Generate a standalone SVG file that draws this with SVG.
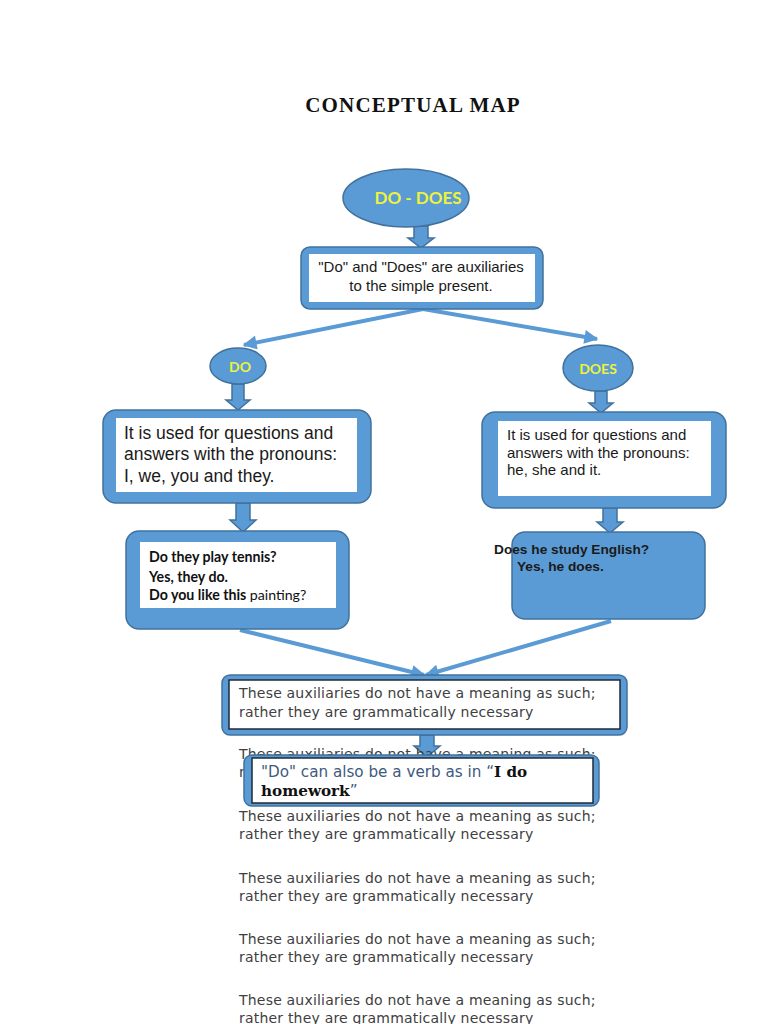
<svg xmlns="http://www.w3.org/2000/svg" width="768" height="1024" viewBox="0 0 768 1024">
<style>
.shape{fill:#5b9bd5;stroke:#41719c;stroke-width:1.5}
.inner{fill:#ffffff}
.innerb{fill:#ffffff;stroke:#1f2a36;stroke-width:1.5}
.yl{fill:#eef23a;font-family:Lato,"Open Sans",sans-serif;font-weight:bold}
.ar{font-family:"Liberation Sans",Arial,sans-serif;fill:#1a1a1a}
.cal{font-family:Lato,"Open Sans",sans-serif;font-size:14.2px;fill:#111}
.ver{font-family:"DejaVu Sans",Verdana,sans-serif;font-size:14px;letter-spacing:0.2px;fill:#404040}
.line{stroke:#5b9bd5;stroke-width:4;fill:none}
</style>
<defs>
<marker id="ah" viewBox="0 0 10 10" refX="9" refY="5" markerWidth="16" markerHeight="14" markerUnits="userSpaceOnUse" orient="auto">
<path d="M0,0 L10,5 L0,10 Z" fill="#5b9bd5"/>
</marker>
</defs>
<rect width="768" height="1024" fill="#ffffff"/>
<text x="413" y="112" text-anchor="middle" font-family="'Liberation Serif','Times New Roman',serif" font-weight="bold" font-size="21" letter-spacing="1.2" fill="#111">CONCEPTUAL MAP</text>

<g id="connectors">
<path class="shape" d="M414,226 H428 V238 H434 L421,248 L408,238 H414 Z"/>
<line class="line" x1="423" y1="309" x2="244" y2="345" marker-end="url(#ah)"/>
<line class="line" x1="423" y1="309" x2="597" y2="339" marker-end="url(#ah)"/>
<path class="shape" d="M232,384 H244 V400 H250 L238,410 L226,400 H232 Z"/>
<path class="shape" d="M595,391 H607 V403 H613 L601,413 L589,403 H595 Z"/>
<path class="shape" d="M236,503 H250 V520 H256 L243,532 L230,520 H236 Z"/>
<path class="shape" d="M603,508 H617 V522 H623 L610,533 L597,522 H603 Z"/>
<line class="line" x1="240" y1="630" x2="424" y2="675" marker-end="url(#ah)"/>
<line class="line" x1="611" y1="621" x2="426" y2="675" marker-end="url(#ah)"/>
<path class="shape" d="M420,735 H434 V746 H440 L427,757 L414,746 H420 Z"/>
</g>

<g id="node-do-does">
<ellipse class="shape" cx="406" cy="198" rx="63" ry="29"/>
<text class="yl" x="418" y="204" text-anchor="middle" font-size="17">DO - DOES</text>
</g>

<g id="node-auxiliaries">
<rect class="shape" x="301" y="247" width="242" height="62" rx="9"/>
<rect class="inner" x="309" y="254" width="226" height="48"/>
<text class="ar" font-size="15" text-anchor="middle"><tspan x="421" y="272">"Do" and "Does" are auxiliaries</tspan><tspan x="421" y="291">to the simple present.</tspan></text>
</g>

<g id="node-do">
<ellipse class="shape" cx="238" cy="366" rx="28" ry="18"/>
<text class="yl" x="240" y="372" text-anchor="middle" font-size="14">DO</text>
</g>

<g id="node-does">
<ellipse class="shape" cx="598" cy="368" rx="35" ry="23"/>
<text class="yl" x="598" y="374" text-anchor="middle" font-size="14">DOES</text>
</g>

<g id="node-do-usage">
<rect class="shape" x="103" y="410" width="268" height="93" rx="13"/>
<rect class="inner" x="116" y="418" width="241" height="74"/>
<text class="ar" font-size="17.5"><tspan x="124" y="439">It is used for questions and</tspan><tspan x="124" y="460">answers with the pronouns:</tspan><tspan x="124" y="482">I, we, you and they.</tspan></text>
</g>

<g id="node-does-usage">
<rect class="shape" x="482" y="412" width="244" height="96" rx="13"/>
<rect class="inner" x="498" y="421" width="213" height="75"/>
<text class="ar" font-size="15"><tspan x="507" y="440">It is used for questions and</tspan><tspan x="507" y="458">answers with the pronouns:</tspan><tspan x="507" y="475">he, she and it.</tspan></text>
</g>

<g id="node-do-examples">
<rect class="shape" x="126" y="531" width="223" height="98" rx="13"/>
<rect class="inner" x="140" y="542" width="196" height="66"/>
<text class="cal" font-weight="bold"><tspan x="149" y="562">Do they play tennis?</tspan><tspan x="149" y="582">Yes, they do.</tspan><tspan x="149" y="600">Do you like this <tspan font-weight="normal">painting?</tspan></tspan></text>
</g>

<g id="node-does-examples">
<rect class="shape" x="512" y="532" width="193" height="87" rx="13"/>
<text class="ar" font-size="13.7" font-weight="bold" fill="#000"><tspan x="494" y="554">Does he study English?</tspan><tspan x="517" y="571">Yes, he does.</tspan></text>
</g>

<g id="node-meaning">
<rect class="shape" x="222" y="675" width="405" height="60" rx="8"/>
<rect class="innerb" x="229" y="680" width="391" height="49"/>
<text class="ver"><tspan x="239" y="698">These auxiliaries do not have a meaning as such;</tspan><tspan x="239" y="717">rather they are grammatically necessary</tspan></text>
</g>

<g id="ghost-text">
<text class="ver"><tspan x="239" y="759">These auxiliaries do not have a meaning as such;</tspan><tspan x="239" y="777">rather they are grammatically necessary</tspan></text>
</g>

<g id="node-verb">
<rect class="shape" x="244" y="755" width="355" height="51" rx="8"/>
<rect class="innerb" x="252" y="758" width="341" height="45"/>
<text font-size="15.2"><tspan x="261" y="777" font-family="'DejaVu Sans',Verdana,sans-serif" fill="#3e5a7e">"Do" can also be a verb as in “</tspan><tspan font-family="'DejaVu Serif',Cambria,serif" font-weight="bold" fill="#111">I do</tspan><tspan x="261" y="796" font-family="'DejaVu Serif',Cambria,serif" font-weight="bold" fill="#111">homework</tspan><tspan font-family="'DejaVu Sans',Verdana,sans-serif" fill="#3e5a7e">”</tspan></text>
</g>

<g id="repeated-text">
<text class="ver"><tspan x="239" y="821">These auxiliaries do not have a meaning as such;</tspan><tspan x="239" y="839">rather they are grammatically necessary</tspan></text>
<text class="ver"><tspan x="239" y="883">These auxiliaries do not have a meaning as such;</tspan><tspan x="239" y="901">rather they are grammatically necessary</tspan></text>
<text class="ver"><tspan x="239" y="944">These auxiliaries do not have a meaning as such;</tspan><tspan x="239" y="962">rather they are grammatically necessary</tspan></text>
<text class="ver"><tspan x="239" y="1005">These auxiliaries do not have a meaning as such;</tspan><tspan x="239" y="1023">rather they are grammatically necessary</tspan></text>
</g>
</svg>
